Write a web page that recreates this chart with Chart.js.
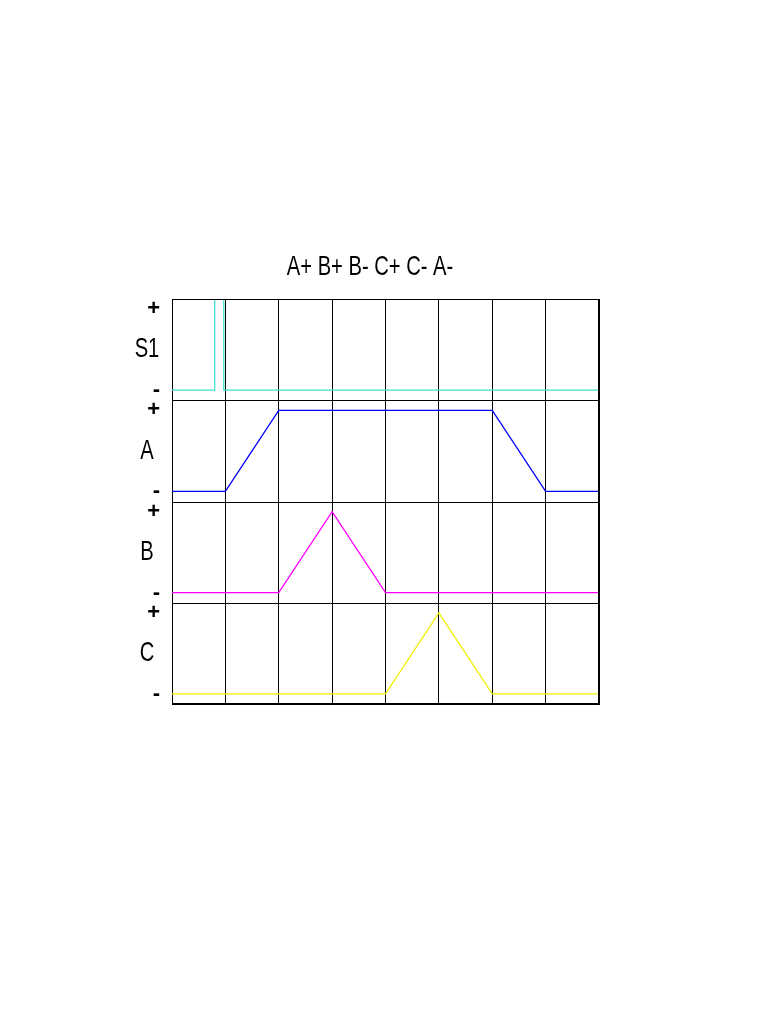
<!DOCTYPE html>
<html><head><meta charset="utf-8">
<script src="https://cdn.jsdelivr.net/npm/chart.js@4"></script>
<style>html,body{margin:0;padding:0;background:#fff}#w{width:768px;height:1024px}</style>
</head><body><div id="w"><canvas id="c"></canvas></div>
<script>
const titleText = "A+ B+ B- C+ C- A-";
const panelNames = ["S1","A","B","C"];
const tickLabels = {0:"-",1:"+"};
const s1X = [0,0.8,0.8,0.97,0.97,8], s1Y = [0,0,1.12,1.12,0,0];
const aX = [0,1,2,6,7,8], aY = [0,0,1,1,0,0];
const bX = [0,2,3,4,8], bY = [0,0,1,0,0];
const cX = [0,4,5,6,8], cY = [0,0,1,0,0];
const colors = ["#40e0d0","#0000ff","#ff00ff","#f0f000"];
const FONT = "'Liberation Sans',sans-serif";
const pts=(xs,ys)=>xs.map((x,i)=>({x,y:ys[i]}));
const series=[pts(s1X,s1Y),pts(aX,aY),pts(bX,bY),pts(cX,cY)];
const ids=["yS1","yA","yB","yC"];
function yAxis(){return {type:'linear',stack:'p',stackWeight:1,min:-0.125,max:1.125,offset:false,
 grid:{display:false},border:{display:true,color:'#000'},
 afterBuildTicks:s=>{s.ticks=[{value:0},{value:1}];},
 afterFit:s=>{s.width=172;},
 ticks:{color:'#000',padding:4,font:{family:FONT,size:22,weight:'bold'},callback:v=>tickLabels[v]}};}
const scales={x:{type:'linear',min:0,max:8,ticks:{display:false,stepSize:1},
 grid:{color:'#000',lineWidth:1,drawTicks:false},border:{color:'#000'},afterFit:s=>{s.height=0;}}};
[...ids].reverse().forEach(id=>scales[id]=yAxis());
function narrowText(g,t,x,y,size){g.save();g.translate(x,y);g.scale(0.72,1);
 g.font=size+'px '+FONT;g.textAlign='center';g.textBaseline='middle';g.fillStyle='#000';g.fillText(t,0,0);g.restore();}
const deco={id:'deco',afterDraw(ch){const g=ch.ctx,a=ch.chartArea;g.save();
 g.strokeStyle='#000';g.lineWidth=1;
 ids.forEach((id,i)=>{const s=ch.scales[id];const y=Math.round(s.top)+0.5;
  g.beginPath();g.moveTo(a.left,y);g.lineTo(a.right,y);g.stroke();
  narrowText(g,panelNames[i],147,(s.top+s.bottom)/2,28);});
 g.beginPath();g.moveTo(a.left,Math.round(a.bottom)-0.5);g.lineTo(a.right,Math.round(a.bottom)-0.5);
 g.moveTo(Math.round(a.right)-0.5,a.top);g.lineTo(Math.round(a.right)-0.5,a.bottom);g.stroke();
 narrowText(g,titleText,370,267,28);g.restore();}};
new Chart(document.getElementById('c'),{type:'line',
 data:{datasets:series.map((d,i)=>({data:d,yAxisID:ids[i],borderColor:colors[i],borderWidth:1.3,pointRadius:0,tension:0,fill:false}))},
 options:{responsive:true,maintainAspectRatio:false,animation:false,
  layout:{padding:{top:299,bottom:320,left:0,right:169}},
  plugins:{legend:{display:false},tooltip:{enabled:false}},scales},
 plugins:[deco]});
</script></body></html>
